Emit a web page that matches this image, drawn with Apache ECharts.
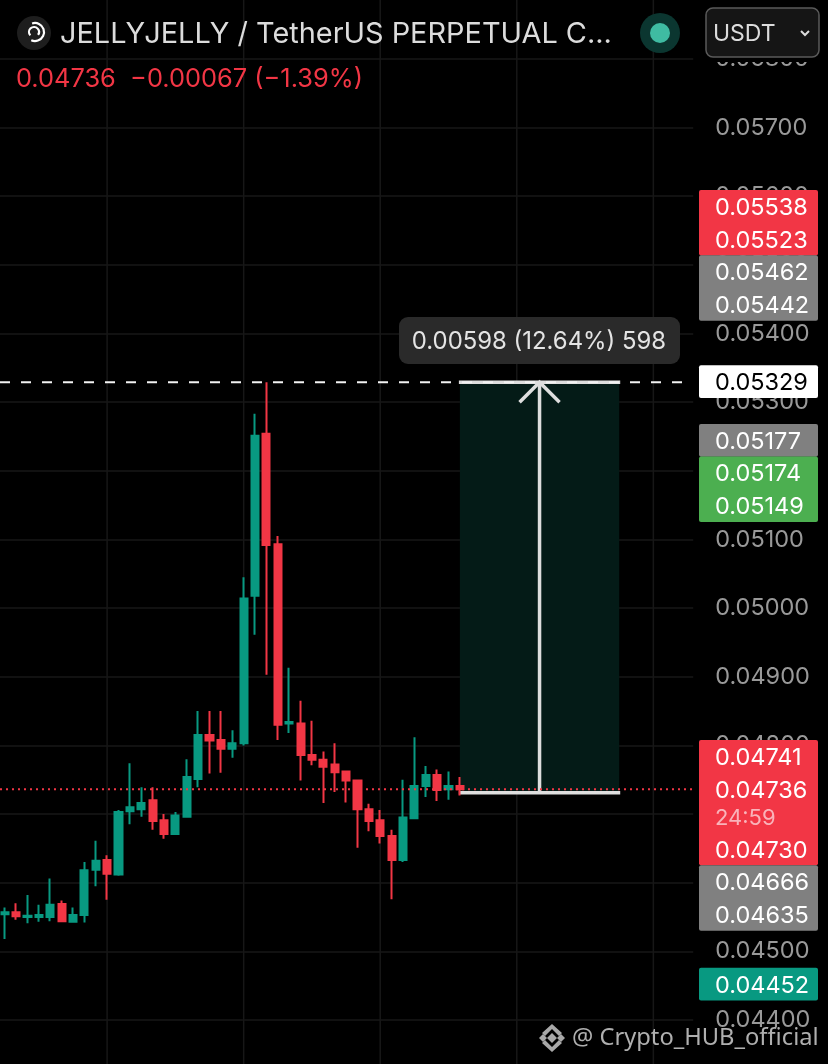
<!DOCTYPE html>
<html><head><meta charset="utf-8">
<style>html,body{margin:0;padding:0;background:#000}#c{width:828px;height:1064px}</style>
<script src="https://cdn.jsdelivr.net/npm/echarts@6/dist/echarts.min.js"></script>
</head><body><div id="c"></div>
<script>
const opens  = [.04554,.04557,.04550,.04550,.04550,.04569,.04543,.04553,.04619,.04633,.04612,.04704,.04707,.04720,.04691,.04671,.04696,.04751,.04815,.04808,.04795,.04803,.05018,.05254,.05093,.04832,.04832,.04786,.04779,.04772,.04762,.04749,.04707,.04691,.04668,.04633,.04694,.04741,.04757,.04736,.04741];
const closes = [.04557,.04551,.04552,.04553,.04568,.04544,.04553,.04618,.04632,.04613,.04703,.04710,.04716,.04690,.04671,.04698,.04754,.04815,.04807,.04795,.04803,.05014,.05251,.05092,.04830,.04834,.04786,.04779,.04769,.04761,.04749,.04707,.04690,.04668,.04633,.04695,.04741,.04757,.04735,.04741,.04736];
const lows   = [.04518,.04546,.04541,.04543,.04544,.04543,.04542,.04542,.04595,.04575,.04610,.04685,.04696,.04677,.04664,.04671,.04696,.04739,.04759,.04760,.04782,.04800,.04961,.04903,.04808,.04818,.04749,.04771,.04716,.04732,.04717,.04651,.04675,.04657,.04576,.04630,.04693,.04725,.04719,.04721,.04727];
const highs  = [.04564,.04570,.04582,.04568,.04606,.04574,.04564,.04630,.04661,.04640,.04706,.04774,.04739,.04739,.04700,.04703,.04780,.04850,.04850,.04850,.04822,.05045,.05283,.05329,.05105,.04913,.04865,.04836,.04791,.04803,.04763,.04750,.04715,.04706,.04677,.04750,.04812,.04770,.04765,.04762,.04754];
const visibleBars = 61;
const categories = Array.from({length: visibleBars}, (_, i) => String(i));
const verticalGridBars = [9, 21, 33, 45, 57];
const lastPrice = 0.04736;
const highPrice = 0.05329;
const measureBars = [40, 54];
const measureArrowBar = 47;
const measurePrices = [0.04731, 0.05329];
const measureText = '0.00598 (12.64%) 598';
const titleText = 'JELLYJELLY / TetherUS PERPETUAL C...';
const quoteText = '0.04736  \u22120.00067 (\u22121.39%)';
const currencyText = 'USDT';
const countdownText = '24:59';
const watermarkText = '@ Crypto_HUB_official';
const upperRed = ['0.05538', '0.05523'];
const upperGray = ['0.05462', '0.05442'];
const highTag = ['0.05329'];
const midGray = ['0.05177'];
const midGreen = ['0.05174', '0.05149'];
const lowerRed = ['0.04741', '0.04736', '0.04730'];
const lowerGray = ['0.04666', '0.04635'];
const lowTag = ['0.04452'];

const RED = '#f23645', GREEN = '#089981', GRAY = '#808080', GRID = '#171717';
const NUM = 'Inter, Roboto, sans-serif';
const chart = echarts.init(document.getElementById('c'), null, {renderer: 'canvas'});

function tags() {
  const out = [];
  const TAGX = 699, TAGW = 119, H = 32.7, Z = 50;
  function txt(t, y, fg, font) {
    out.push({type:'text', z:Z+1, style:{text:t, x:715, y:y, font:font || ('23.5px '+NUM), fill:fg, textVerticalAlign:'middle', textBaseline:'middle'}});
  }
  function stack(top, labels, fill, fg) {
    out.push({type:'rect', z:Z, shape:{x:TAGX, y:top, width:TAGW, height:H*labels.length, r:2}, style:{fill:fill}});
    labels.forEach((t, i) => txt(t, top + (i + 0.5) * H + 1.5, fg));
  }
  stack(190, upperRed, RED, '#fff');
  stack(255.3, upperGray, GRAY, '#fff');
  stack(365.3, highTag, '#fff', '#000');
  stack(424, midGray, GRAY, '#fff');
  stack(456.5, midGreen, '#4caf50', '#fff');
  out.push({type:'rect', z:Z, shape:{x:TAGX, y:740, width:TAGW, height:125.3, r:2}, style:{fill:RED}});
  txt(lowerRed[0], 758, '#fff');
  txt(lowerRed[1], 791, '#fff');
  txt(countdownText, 818, '#f9b3ba', '22px '+NUM);
  txt(lowerRed[2], 851, '#fff');
  stack(865.3, lowerGray, GRAY, '#fff');
  stack(967.7, lowTag, GREEN, '#fff');
  return out;
}

const header = [
  {type:'rect', z:40, shape:{x:697, y:0, width:131, height:62}, style:{fill:'#000'}},
  {type:'circle', z:60, shape:{cx:34, cy:33, r:17}, style:{fill:'#1e1e1e'}},
  {type:'arc', z:61, shape:{cx:35, cy:32, r:9, startAngle:-1.9, endAngle:2.0}, style:{stroke:'#fff', lineWidth:2.2, fill:'none'}},
  {type:'arc', z:61, shape:{cx:34, cy:32, r:5, startAngle:2.4, endAngle:6.9}, style:{stroke:'#fff', lineWidth:2.2, fill:'none'}},
  {type:'text', z:61, style:{text:titleText, x:60, y:34.5, font:'28.9px "Inter", Roboto, sans-serif', fill:'#dcdcdc', textVerticalAlign:'middle', textBaseline:'middle'}},
  {type:'text', z:61, style:{text:quoteText, x:16, y:79, font:'25.4px '+NUM, fill:RED, textVerticalAlign:'middle', textBaseline:'middle'}},
  {type:'circle', z:60, shape:{cx:660, cy:33, r:20}, style:{fill:'#0b3630'}},
  {type:'circle', z:61, shape:{cx:660, cy:33, r:10}, style:{fill:'#3fbba2'}},
  {type:'rect', z:60, shape:{x:706, y:8, width:113, height:49, r:7}, style:{fill:'#151515', stroke:'#5a5a5a', lineWidth:1.5}},
  {type:'text', z:61, style:{text:currencyText, x:713, y:34, font:'23px '+NUM, fill:'#dcdcdc', textVerticalAlign:'middle', textBaseline:'middle'}},
  {type:'polyline', z:61, shape:{points:[[801,31],[805,35],[809,31]]}, style:{stroke:'#dcdcdc', lineWidth:2, fill:'none'}},
  {type:'rect', z:60, shape:{x:399, y:317, width:281, height:47, r:9}, style:{fill:'#2a2a2a'}},
  {type:'text', z:61, style:{text:measureText, x:539, y:342, font:'23.9px '+NUM, fill:'#e4e4e4', textAlign:'center', textVerticalAlign:'middle', textBaseline:'middle'}},
  {type:'polygon', z:70, shape:{points:[[552,1033],[557,1038],[552,1043],[547,1038]]}, style:{fill:'#a8a8a8'}},
  {type:'polygon', z:70, shape:{points:[[539,1038],[543,1034],[547,1038],[543,1042]]}, style:{fill:'#a8a8a8'}},
  {type:'polygon', z:70, shape:{points:[[557,1038],[561,1034],[565,1038],[561,1042]]}, style:{fill:'#a8a8a8'}},
  {type:'polygon', z:70, shape:{points:[[552,1024],[562,1033],[559,1036],[552,1029],[545,1036],[542,1033]]}, style:{fill:'#a8a8a8'}},
  {type:'polygon', z:70, shape:{points:[[552,1052],[562,1043],[559,1040],[552,1047],[545,1040],[542,1043]]}, style:{fill:'#a8a8a8'}},
  {type:'text', z:70, style:{text:watermarkText, x:572, y:1038, font:'23.7px "Noto Sans", sans-serif', fill:'rgba(190,190,190,0.92)', textVerticalAlign:'middle', textBaseline:'middle'}}
];

const option = {
  backgroundColor: '#000',
  animation: false,
  grid: {left: -1, top: -9.75, width: 11.38 * visibleBars, height: 1098.4, outerBoundsMode: 'none', containLabel: false},
  xAxis: {type:'category', data:categories, boundaryGap:true,
    axisLine:{show:false}, axisTick:{show:false}, axisLabel:{show:false}, splitLine:{show:false}},
  yAxis: {type:'value', position:'right', min:0.043, max:0.059, interval:0.001, scale:true,
    axisLine:{show:false}, axisTick:{show:false},
    splitLine:{show:true, lineStyle:{color:GRID, width:1.5}},
    axisLabel:{show:true, inside:false, margin:22, align:'left', color:'#999999', fontSize:23.5, fontFamily:NUM,
      hideOverlap:false, showMinLabel:true, showMaxLabel:true, formatter:v=>v.toFixed(5)}},
  graphic: {elements: header.concat(tags())},
  series: [
    {type:'custom', name:'vgrid', silent:true, z:1, clip:false,
      data: verticalGridBars.map(b=>[b]), encode:{x:0},
      renderItem:(p,api)=>{
        const x = api.coord([api.value(0), 0.05])[0];
        return {type:'line', shape:{x1:x,y1:0,x2:x,y2:1064}, style:{stroke:GRID, lineWidth:1.5}};
      }},
    {type:'custom', name:'measure', silent:true, z:2, clip:false,
      data:[[measureBars[0], measureBars[1], measurePrices[0], measurePrices[1], measureArrowBar]],
      encode:{x:[0,1,4], y:[2,3]},
      renderItem:(p,api)=>{
        const a = api.coord([api.value(0), api.value(3)]);
        const b = api.coord([api.value(1), api.value(2)]);
        const m = api.coord([api.value(4), api.value(3)])[0];
        const st = {stroke:'#dedede', lineWidth:3.5, fill:'none'};
        return {type:'group', children:[
          {type:'rect', shape:{x:a[0], y:a[1], width:b[0]-a[0], height:b[1]-a[1]}, style:{fill:'#041b17'}},
          {type:'line', shape:{x1:a[0]-1,y1:a[1],x2:b[0]+1,y2:a[1]}, style:st},
          {type:'line', shape:{x1:a[0]-1,y1:b[1],x2:b[0]+1,y2:b[1]}, style:st},
          {type:'line', shape:{x1:m,y1:a[1],x2:m,y2:b[1]}, style:st},
          {type:'polyline', shape:{points:[[m-20,a[1]+20],[m,a[1]],[m+20,a[1]+20]]}, style:st}
        ]};
      }},
    {type:'candlestick', name:'JELLYJELLY', z:3, barWidth:7.6,
      data: opens.map((o,i)=>[o, closes[i], lows[i], highs[i]]),
      itemStyle:{color:GREEN, color0:RED, borderColor:GREEN, borderColor0:RED, borderWidth:2}},
    {type:'custom', name:'priceLines', silent:true, z:4, clip:false,
      data:[[lastPrice, 0],[highPrice, 1]], encode:{y:0},
      renderItem:(p,api)=>{
        const y = api.coord([0, api.value(0)])[1];
        const dotted = api.value(1) === 0;
        return {type:'line', shape:{x1:0,y1:y,x2:dotted?696:690,y2:y},
          style: dotted ? {stroke:RED, lineWidth:2, lineDash:[2,4]} : {stroke:'#f2f2f2', lineWidth:2, lineDash:[10,11]}};
      }}
  ]
};
chart.setOption(option);
</script></body></html>
